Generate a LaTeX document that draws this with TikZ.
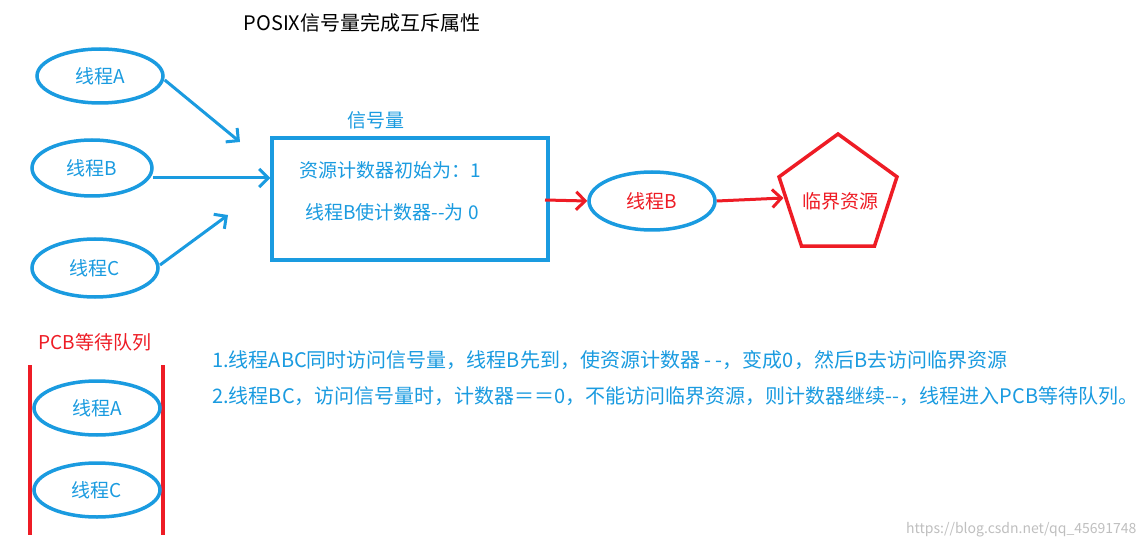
\documentclass[tikz,border=0pt]{standalone}
\usepackage{fontspec}
\setmainfont{Noto Sans CJK SC}
\usetikzlibrary{shapes.geometric,arrows.meta}
\definecolor{bl}{HTML}{1A9BE0}
\definecolor{rd}{HTML}{EE1C25}
\begin{document}
\begin{tikzpicture}[x=1pt,y=-1pt,
  th/.style={draw=bl,line width=3.5pt,ellipse,inner sep=0pt,text=bl,font=\fontsize{19}{22}\selectfont},
  ar/.style={draw=bl,line width=3pt,-{Straight Barb[length=9pt,width=18pt]}},
  ra/.style={draw=rd,line width=3pt,-{Straight Barb[length=9pt,width=18pt]}},
  tx/.style={font=\fontsize{19}{22}\selectfont,inner sep=0pt},
  lt/.style={font=\fontsize{20}{22}\selectfont,inner sep=0pt}]
\useasboundingbox (0,0) rectangle (1146,548);
\fill[white] (0,0) rectangle (1146,548);
\node[lt] (title) at (362,23) {POSIX信号量完成互斥属性};
\node[th,minimum width=126pt,minimum height=54pt] (a) at (100,76) {线程A};
\node[th,minimum width=120pt,minimum height=56pt] (b) at (92,168) {线程B};
\node[th,minimum width=126pt,minimum height=58pt] (c) at (95,268) {线程C};
\node[draw=bl,line width=3.5pt,minimum width=276pt,minimum height=122pt] (box) at (410,199) {};
\node[tx,text=bl] (lab) at (376,120) {信号量};
\node[tx,text=bl] (t1) at (390,170) {资源计数器初始为：1};
\node[tx,text=bl] (t2) at (392,212) {线程B使计数器{-}{-}为 0};
\coordinate (ea) at (240,142);
\coordinate (ec) at (228,215);
\draw[ar] (a.east) ++(0,4) -- (ea);
\draw[ar] (153,178) -- (box.west |- 0,178);
\draw[ar] (160,265) -- (ec);
\node[th,text=rd,minimum width=126pt,minimum height=58pt] (b2) at (652,201) {线程B};
\draw[ra] (545,200) -- (b2.west);
\node[regular polygon,regular polygon sides=5,draw=rd,line width=3.5pt,minimum size=124pt,inner sep=0pt] (p) at (838,196) {};
\node[tx,text=rd] at (840,201) {临界资源};
\draw[ra] (b2.east) -- (p.west |- 0,198);
\node[tx,text=rd] (pcb) at (95,342) {PCB等待队列};
\draw[rd,line width=3.5pt] (30,365) -- (30,535);
\draw[rd,line width=3.5pt] (163,365) -- (163,535);
\node[th,minimum width=126pt,minimum height=54pt] (qa) at (97,408) {线程A};
\node[th,minimum width=126pt,minimum height=54pt] (qc) at (97,490) {线程C};
\node[lt,text=bl,anchor=west] (l1) at (212,360) {1.线程ABC同时访问信号量，线程B先到，使资源计数器 - -，变成0，然后B去访问临界资源};
\node[lt,text=bl,anchor=west] (l2) at (212,396) {2.线程BC，访问信号量时，计数器＝＝0，不能访问临界资源，则计数器继续{-}{-}，线程进入PCB等待队列。};
\node[anchor=east,text=gray!50,font=\fontsize{14}{16}\selectfont] (wm) at (1140,530) {https://blog.csdn.net/qq\_45691748};
\end{tikzpicture}
\end{document}
